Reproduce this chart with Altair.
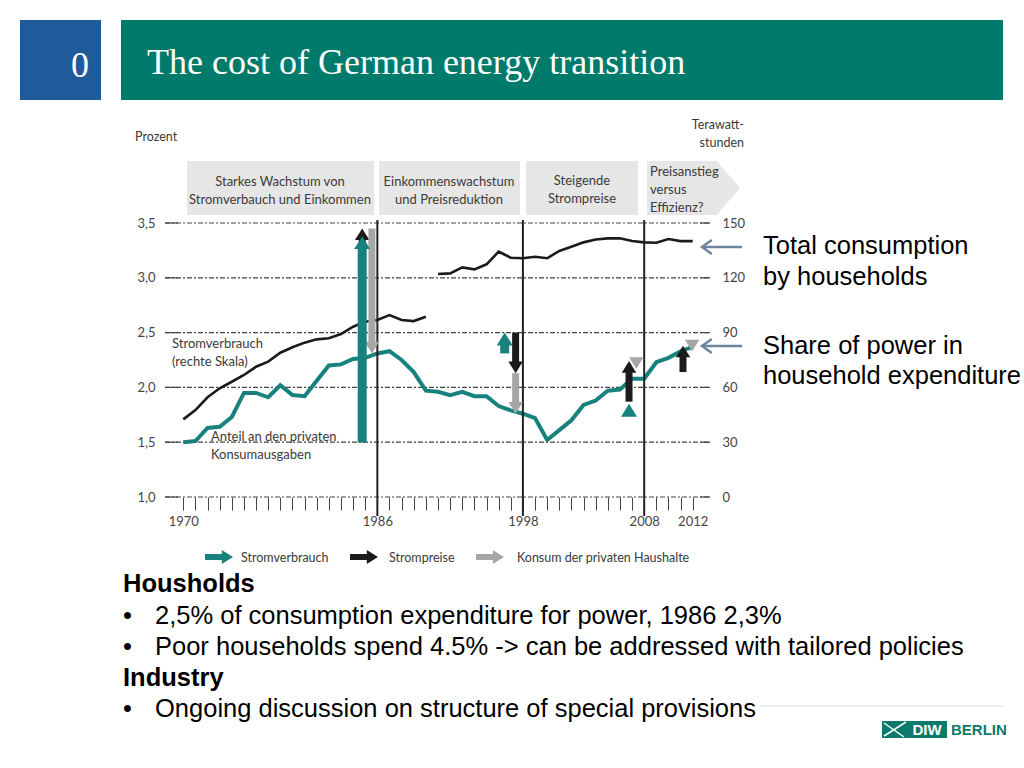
import altair as alt
import pandas as pd

# ---------------- data ----------------
years = list(range(1970, 2013))
share_pct = [1.50, 1.51, 1.63, 1.64, 1.73, 1.95, 1.95, 1.91, 2.02, 1.93,
             1.92, 2.06, 2.20, 2.21, 2.26, 2.27, 2.31, 2.33, 2.25, 2.14,
             1.97, 1.96, 1.93, 1.96, 1.92, 1.92, 1.83, 1.79, 1.76, 1.72,
             1.52, 1.61, 1.70, 1.84, 1.88, 1.97, 1.98, 2.08, 2.08, 2.23,
             2.27, 2.33, 2.37]

cons_years_west = list(range(1970, 1991))
cons_twh_west = [42.5, 47.6, 54.6, 59.5, 63.1, 66.8, 71.3, 74.1, 79.0, 82.0,
                 84.5, 86.3, 86.9, 89.2, 93.2, 96.0, 96.9, 99.6, 96.9, 96.3, 98.7]
cons_years_all = list(range(1991, 2013))
cons_twh_all = [122.1, 122.4, 125.7, 124.6, 127.4, 134.3, 131.0, 130.7, 131.5, 130.7,
                134.7, 137.0, 139.4, 141.0, 141.6, 141.6, 140.1, 139.4, 139.2, 141.2,
                140.1, 140.1]

phase_years = [1986, 1998, 2008]
grid_values = [1.0, 1.5, 2.0, 2.5, 3.0, 3.5]
labelled_years = [1970, 1986, 1998, 2008, 2012]

arrow_year = [1984.75, 1985.55, 1984.75, 1997.4, 1997.4, 1996.5,
              2006.75, 2007.35, 2006.75, 2011.2, 2011.95]
arrow_from = [1.50, 3.45, 1.50, 2.50, 2.13, 2.31,
              1.87, 2.24, 1.75, 2.14, 2.38]
arrow_to = [3.45, 2.31, 3.38, 2.13, 1.76, 2.50,
            2.24, 2.17, 1.85, 2.38, 2.33]
arrow_kind = ["Strompreise", "Konsum", "Stromverbrauch", "Strompreise", "Konsum", "Stromverbrauch",
              "Strompreise", "Konsum", "Stromverbrauch", "Strompreise", "Konsum"]

phase_lines_1 = ["Starkes Wachstum von", "Stromverbauch und Einkommen"]
phase_lines_2 = ["Einkommenswachstum", "und Preisreduktion"]
phase_lines_3 = ["Steigende", "Strompreise"]
phase_lines_4 = ["Preisanstieg", "versus", "Effizienz?"]

# ---------------- styles ----------------
TEAL = "#17827d"
BLACK = "#1b1b1b"
GRAY = "#a6a6a6"
TXT = "#3a3a3a"
FONT = "Lato"
SANS = "Liberation Sans"
BIG = 25.5
OX, OY = 165, 223          # page position of the plot area's top-left corner
W, H = 545, 274

xscale = alt.Scale(domain=[1970, 2012], range=[18.3, 527.7])
yscale = alt.Scale(domain=[1.0, 3.5], nice=False, zero=False)
x_axis = alt.Axis(values=years, format="d", tickSize=13, tickColor="#444", tickWidth=1, domain=False,
                  grid=False, labelPadding=5, labelFontSize=13, labelColor="#444", labelFont=FONT,
                  title=None, labelOverlap=False, labelFlush=False,
                  labelExpr="indexof(%s, datum.value) >= 0 ? datum.label : ''" % str(labelled_years))


def X(field):
    return alt.X(field, type="quantitative", scale=xscale, axis=x_axis)


base = alt.Chart(pd.DataFrame({"d": [0]}))


def px(x):
    return alt.value(x - OX)


def py(y):
    return alt.value(y - OY)


def rect(x1, y1, x2, y2, color):
    return base.mark_rect(color=color).encode(x=px(x1), x2=px(x2), y=py(y1), y2=py(y2))


def label(x, y, text, size=13, color=TXT, font=FONT, align="left", weight="normal"):
    return base.mark_text(text=text, fontSize=size, color=color, font=font, align=align,
                          fontWeight=weight, baseline="middle").encode(x=px(x), y=py(y))


def seg(x1, y1, x2, y2, color, width, dash=None):
    kw = dict(color=color, strokeWidth=width, strokeCap="butt")
    if dash:
        kw["strokeDash"] = dash
    return base.mark_rule(**kw).encode(x=px(x1), x2=px(x2), y=py(y1), y2=py(y2))


def symbol(x, y, path, size, color, filled=True, width=0):
    if filled:
        return base.mark_point(shape=path, size=size, filled=True, color=color, opacity=1,
                               strokeWidth=0).encode(x=px(x), y=py(y))
    return base.mark_point(shape=path, size=size, filled=False, color=color, opacity=1,
                           strokeWidth=width).encode(x=px(x), y=py(y))


UP = "M0,0L-1,1.6L1,1.6Z"
DOWN = "M0,0L-1,-1.6L1,-1.6Z"
RIGHT = "M0,0L-1.6,-1L-1.6,1Z"
CHEVRON = "M1.4,-1L0,0L1.4,1"
PENTAGON = "M-1,-0.58L0.5,-0.58L1,0L0.5,0.58L-1,0.58Z"

layers = []

# ---------- slide header ----------
layers.append(rect(20, 20, 101, 100, "#1f5b9b"))
layers.append(rect(121, 20, 1003, 100, "#007a6a"))
layers.append(label(80, 66, "0", size=36, color="white", font="Liberation Serif", align="center"))
layers.append(label(147, 63, "The cost of German energy transition", size=36, color="white",
                    font="Liberation Serif"))

# ---------- phase boxes ----------
layers.append(rect(187, 161, 374, 215, "#e6e6e6"))
layers.append(rect(379, 161, 520, 215, "#e6e6e6"))
layers.append(rect(526, 161, 638, 215, "#e6e6e6"))
layers.append(symbol(693.5, 188, PENTAGON, 8649, "#e6e6e6"))
layers.append(label(280, 182, phase_lines_1[0], align="center"))
layers.append(label(280, 200, phase_lines_1[1], align="center"))
layers.append(label(449, 182, phase_lines_2[0], align="center"))
layers.append(label(449, 200, phase_lines_2[1], align="center"))
layers.append(label(582, 181, phase_lines_3[0], align="center"))
layers.append(label(582, 199, phase_lines_3[1], align="center"))
layers.append(label(650, 172, phase_lines_4[0]))
layers.append(label(650, 190, phase_lines_4[1]))
layers.append(label(650, 208, phase_lines_4[2]))

layers.append(label(135, 137, "Prozent", size=12.5))
layers.append(label(744, 125, "Terawatt-", size=12.5, align="right"))
layers.append(label(744, 143, "stunden", size=12.5, align="right"))

# ---------- gridlines with left axis ----------
grid_df = pd.DataFrame({"v": grid_values})
left_axis = alt.Axis(orient="left", values=grid_values, ticks=False, domain=False, grid=False,
                     labelPadding=10, labelFontSize=13, labelColor="#444", labelFont=FONT, title=None,
                     labelExpr="replace(format(datum.value, '.1f'), '.', ',')")
layers.append(alt.Chart(grid_df).mark_rule(color="#444", strokeWidth=1.2, strokeDash=[5, 2, 2, 2]).encode(
    y=alt.Y("v:Q", scale=yscale, axis=left_axis), x=alt.value(0), x2=alt.value(W)))
layers.append(alt.Chart(grid_df).mark_rule(color="#444", strokeWidth=1.2).encode(
    y=alt.Y("v:Q", scale=yscale, axis=None), x=alt.value(0), x2=alt.value(13)))
layers.append(alt.Chart(grid_df).mark_rule(color="#444", strokeWidth=1.2).encode(
    y=alt.Y("v:Q", scale=yscale, axis=None), x=alt.value(W - 10), x2=alt.value(W)))

# ---------- share line (carries the x axis) ----------
share_df = pd.DataFrame({"year": years, "pct": share_pct})
layers.append(alt.Chart(share_df).mark_line(color=TEAL, strokeWidth=4).encode(
    x=X("year"), y=alt.Y("pct:Q", scale=yscale, axis=None)))

# ---------- phase separators ----------
layers.append(alt.Chart(pd.DataFrame({"year": phase_years})).mark_rule(color="#222", strokeWidth=2).encode(
    x=X("year"), y=py(220), y2=py(516)))

# ---------- consumption line (right axis) ----------
cons_df = pd.DataFrame({
    "year": cons_years_west + cons_years_all,
    "twh": cons_twh_west + cons_twh_all,
    "part": ["west"] * len(cons_years_west) + ["all"] * len(cons_years_all),
})
right_axis = alt.Axis(orient="right", values=[0, 30, 60, 90, 120, 150], ticks=False, domain=False,
                      grid=False, labelPadding=12, labelFontSize=13, labelColor="#444", labelFont=FONT,
                      title=None, labelAlign="left")
layers.append(alt.Chart(cons_df).mark_line(color=BLACK, strokeWidth=2.6).encode(
    x=X("year"),
    y=alt.Y("twh:Q", scale=alt.Scale(domain=[0, 150], nice=False), axis=right_axis),
    detail="part:N"))

# ---------- arrows ----------
arrow_df = pd.DataFrame({"year": arrow_year, "y0": arrow_from, "y1": arrow_to, "kind": arrow_kind})
kind_style = {"Strompreise": (BLACK, 7), "Konsum": (GRAY, 7), "Stromverbrauch": (TEAL, 9)}
for kind in ["Strompreise", "Konsum", "Stromverbrauch"]:
    color, width = kind_style[kind]
    ak = alt.Chart(arrow_df).transform_filter(alt.datum.kind == kind).transform_calculate(
        dir="datum.y1 > datum.y0 ? 'up' : 'down'",
        shaft_end="datum.y1 > datum.y0 ? max(datum.y0, datum.y1 - 0.09) : min(datum.y0, datum.y1 + 0.09)")
    layers.append(ak.mark_rule(color=color, strokeWidth=width, strokeCap="butt").encode(
        x=X("year"), y=alt.Y("y0:Q", scale=yscale, axis=None), y2="shaft_end:Q"))
    layers.append(ak.mark_point(filled=True, color=color, opacity=1, strokeWidth=0,
                                size=256 if kind == "Stromverbrauch" else 210).encode(
        x=X("year"), y=alt.Y("y1:Q", scale=yscale, axis=None),
        shape=alt.Shape("dir:N", scale=alt.Scale(domain=["up", "down"], range=[UP, DOWN]), legend=None)))

# ---------- inline chart labels ----------
layers.append(label(172, 344, "Stromverbrauch"))
layers.append(label(172, 362, "(rechte Skala)"))
layers.append(label(211, 437, "Anteil an den privaten"))
layers.append(label(211, 455, "Konsumausgaben"))

# ---------- legend ----------
layers.append(seg(205, 557, 224, 557, TEAL, 6))
layers.append(symbol(233, 557, RIGHT, 196, TEAL))
layers.append(label(241, 558, "Stromverbrauch", size=12.5))
layers.append(seg(350, 557, 369, 557, BLACK, 6))
layers.append(symbol(378, 557, RIGHT, 196, BLACK))
layers.append(label(389, 558, "Strompreise", size=12.5))
layers.append(seg(476, 557, 495, 557, GRAY, 6))
layers.append(symbol(504, 557, RIGHT, 196, GRAY))
layers.append(label(517, 558, "Konsum der privaten Haushalte", size=12.5))

# ---------- annotations on the right ----------
ANN = "#6f859b"
layers.append(seg(703, 247, 742, 247, ANN, 2.5))
layers.append(symbol(702, 247, CHEVRON, 196, ANN, filled=False, width=2.5))
layers.append(seg(703, 346, 742, 346, ANN, 2.5))
layers.append(symbol(702, 346, CHEVRON, 196, ANN, filled=False, width=2.5))
layers.append(label(763, 246, "Total consumption", size=BIG, color="black", font=SANS))
layers.append(label(763, 277, "by households", size=BIG, color="black", font=SANS))
layers.append(label(763, 346, "Share of power in", size=BIG, color="black", font=SANS))
layers.append(label(763, 376, "household expenditure", size=BIG, color="black", font=SANS))

# ---------- slide text ----------
layers.append(seg(760, 706, 1003, 706, "#dddddd", 1))
layers.append(label(123, 584, "Housholds", size=BIG, color="black", font=SANS, weight="bold"))
layers.append(label(123, 616, "•", size=BIG, color="black", font=SANS))
layers.append(label(155, 616, "2,5% of consumption expenditure for power, 1986 2,3%", size=BIG, color="black",
                    font=SANS))
layers.append(label(123, 647, "•", size=BIG, color="black", font=SANS))
layers.append(label(155, 647, "Poor households spend 4.5% -> can be addressed with tailored policies", size=BIG,
                    color="black", font=SANS))
layers.append(label(123, 678, "Industry", size=BIG, color="black", font=SANS, weight="bold"))
layers.append(label(123, 709, "•", size=BIG, color="black", font=SANS))
layers.append(label(155, 709, "Ongoing discussion on structure of special provisions", size=BIG, color="black",
                    font=SANS))

# ---------- logo ----------
LOGO = "#0b7a6c"
layers.append(rect(882, 721, 947, 738, LOGO))
layers.append(seg(884, 723, 904, 737, "white", 1.5))
layers.append(seg(884, 736, 906, 722, "white", 1.5))
layers.append(label(927, 730, "DIW", size=15, color="white", font=SANS, weight="bold", align="center"))
layers.append(label(951, 730, "BERLIN", size=15, color=LOGO, font=SANS, weight="bold"))

chart = alt.layer(*layers).resolve_scale(y="independent").properties(
    width=W, height=H, autosize="none",
    padding={"left": OX, "top": OY, "right": 1024 - OX - W, "bottom": 768 - OY - H},
    background="white",
).configure_view(stroke=None)

chart.save("out.html", embed_options={"renderer": "svg", "actions": False})
